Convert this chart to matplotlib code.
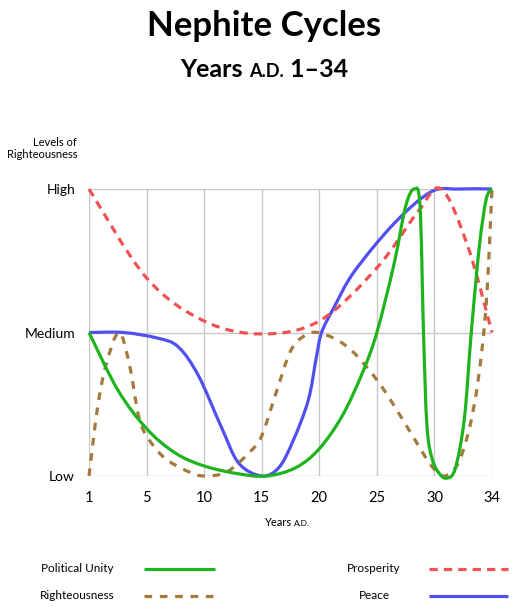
import numpy as np
import matplotlib.pyplot as plt
from matplotlib.path import Path
from matplotlib.patches import PathPatch
from matplotlib.lines import Line2D

plt.rcParams['font.family'] = ['Lato', 'DejaVu Sans']

# tick slots are equally spaced, labelled with the year
year_labels = ['1', '5', '10', '15', '20', '25', '30', '34']
level_labels = ['Low', 'Medium', 'High']

# values (x in tick slots 0..7, y: 0 Low, 1 Medium, 2 High)
unity_x = [0, 0.5, 1.0, 1.5, 2.0, 2.6, 3.1, 3.6, 4.0, 4.4, 4.75, 5.0, 5.3, 5.5,
           5.65, 5.75, 5.81, 5.87, 5.96, 6.08, 6.21, 6.36, 6.52, 6.64, 6.78,
           6.9, 7.0]
unity_y = [1.0, 0.6, 0.33, 0.16, 0.07, 0.015, 0.0, 0.06, 0.19, 0.42, 0.72, 1.0, 1.48, 1.88,
           2.0, 1.88, 1.0, 0.35, 0.12, 0.02, -0.015, 0.05, 0.4, 1.0, 1.6,
           1.93, 2.0]

right_x = [0, 0.15, 0.3, 0.52, 0.7, 0.86, 1.0, 1.3, 1.7, 2.0, 2.4, 2.8, 3.0, 3.25,
           3.5, 3.75, 3.97, 4.3, 4.6, 5.0, 5.3, 5.65, 5.95, 6.17, 6.4, 6.6, 6.76,
           6.9, 7.0]
right_y = [0.0, 0.48, 0.78, 1.0, 0.78, 0.42, 0.28, 0.13, 0.035, 0.0, 0.03, 0.17, 0.28, 0.58,
           0.87, 0.98, 1.0, 0.95, 0.86, 0.67, 0.49, 0.26, 0.07, 0.0, 0.08, 0.32, 0.67,
           1.2, 2.0]

prosp_x = [0, 1.0, 2.0, 3.0, 4.0, 5.0, 5.71, 6.12, 6.58, 7.0]
prosp_y = [2.0, 1.38, 1.08, 0.99, 1.08, 1.45, 1.84, 2.0, 1.6, 1.0]

peace_x = [0, 0.6, 1.2, 1.55, 1.9, 2.3, 2.6, 3.0, 3.3, 3.55, 3.81, 3.95, 4.04, 4.25,
           4.6, 5.3, 5.94, 6.4, 7.0]
peace_y = [1.0, 1.0, 0.96, 0.9, 0.70, 0.34, 0.09, 0.0, 0.06, 0.25, 0.53, 0.83, 1.0, 1.17,
           1.42, 1.76, 1.98, 2.0, 2.0]

W, H = 529, 612


def fx(px):
    return px / W


def fy(py):
    return 1 - py / H


def smooth_path(xs, ys):
    # Catmull-Rom through the read points, drawn as cubic Bezier segments
    p = np.column_stack([xs, ys]).astype(float)
    p = np.vstack([p[0], p, p[-1]])
    verts = [p[1]]
    codes = [Path.MOVETO]
    for i in range(1, len(p) - 2):
        c1 = p[i] + (p[i + 1] - p[i - 1]) / 6
        c2 = p[i + 1] - (p[i + 2] - p[i]) / 6
        verts += [c1, c2, p[i + 1]]
        codes += [Path.CURVE4] * 3
    return Path(verts, codes)


fig = plt.figure(figsize=(W / 100, H / 100), dpi=100)
ax = fig.add_axes([fx(89), fy(476), fx(492) - fx(89), fy(189) - fy(476)])

ax.set_xlim(0, 7)
ax.set_ylim(0, 2)
ax.set_xticks(range(len(year_labels)))
ax.set_xticklabels(year_labels, fontsize=10.5)
ax.set_yticks(range(len(level_labels)))
ax.set_yticklabels(level_labels, fontsize=10)
ax.tick_params(length=0)
ax.tick_params(axis='x', pad=11)
ax.tick_params(axis='y', pad=10)
for s in ax.spines.values():
    s.set_visible(False)
ax.grid(True, color='#c8c8c8', linewidth=1)
ax.set_axisbelow(True)

green = '#1db41d'
brown = '#a47a3c'
red = '#f05252'
blue = '#5050f0'
lw = 2.3

series = [
    (peace_x, peace_y, blue, '-'),
    (prosp_x, prosp_y, red, (0, (2.6, 1.9))),
    (right_x, right_y, brown, (0, (2.4, 2.4))),
    (unity_x, unity_y, green, '-'),
]
for xs, ys, col, ls in series:
    patch = PathPatch(smooth_path(xs, ys), facecolor='none', edgecolor=col,
                      linewidth=lw, linestyle=ls, capstyle='butt', clip_on=False)
    ax.add_patch(patch)

# titles
fig.text(0.5, fy(36), 'Nephite Cycles', ha='center', va='baseline',
         fontsize=25, fontweight='bold')


def composite(pieces, cx, base):
    texts = [fig.text(0, fy(base), s, fontsize=fs, fontweight=fw, ha='left', va='baseline')
             for s, fs, fw in pieces]
    fig.canvas.draw()
    r = fig.canvas.get_renderer()
    widths = [t.get_window_extent(r).width for t in texts]
    x = cx - sum(widths) / 2
    for t, w in zip(texts, widths):
        t.set_x(fx(x))
        x += w


composite([('Years ', 18, 'bold'), ('A.D.', 13, 'bold'), (' 1–34', 18, 'bold')], 264, 77)
composite([('Years ', 8, 'normal'), ('A.D.', 6, 'normal')], 287, 526)

fig.text(fx(77), fy(146), 'Levels of', ha='right', va='baseline', fontsize=8)
fig.text(fx(77), fy(158), 'Righteousness', ha='right', va='baseline', fontsize=8)

# legend
legend_items = [
    ('Political Unity', green, '-', 77, 572, 144, 215),
    ('Righteousness', brown, (0, (2.4, 2.4)), 77, 599, 144, 215),
    ('Prosperity', red, (0, (2.6, 1.9)), 374, 572, 429, 508),
    ('Peace', blue, '-', 374, 599, 429, 508),
]
for label, col, ls, tx, ty, x0, x1 in legend_items:
    fig.text(fx(tx), fy(ty), label, ha='center', va='baseline', fontsize=8.5)
    fig.add_artist(Line2D([fx(x0), fx(x1)], [fy(ty - 3), fy(ty - 3)], color=col,
                          linewidth=lw, linestyle=ls, solid_capstyle='butt',
                          dash_capstyle='butt'))

fig.savefig('out.png', dpi=100)
